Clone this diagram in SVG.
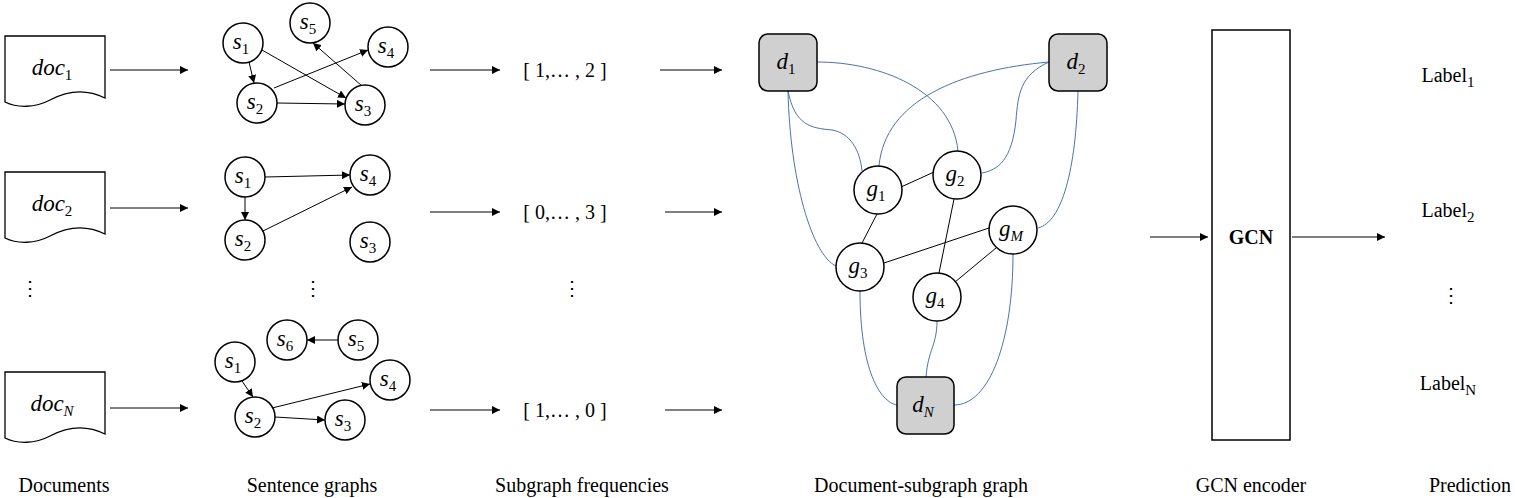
<svg xmlns="http://www.w3.org/2000/svg" width="1515" height="498" viewBox="0 0 1515 498">
<defs>
<marker id="ah" viewBox="0 0 10 10" refX="10" refY="5" markerWidth="8" markerHeight="8" orient="auto" markerUnits="userSpaceOnUse"><path d="M0,0L10,5L0,10z" fill="#000"/></marker>
<path id="docshape" d="M0,0H100V62C80,52 60,56 45,64C30,72 12,72 0,66Z"/>
</defs>
<style>
.m{font-family:"Liberation Serif",serif;font-style:italic;font-size:23px;text-anchor:middle}
.sub{font-size:15px;font-style:normal}
.si{font-size:15px;font-style:italic}
.t{font-family:"Liberation Serif",serif;font-size:20px;text-anchor:middle}
.c{fill:#fff;stroke:#000;stroke-width:1.5}
.e{stroke:#000;stroke-width:1;fill:none}
.ea{stroke:#000;stroke-width:1;fill:none;marker-end:url(#ah)}
.b{stroke:#4a72b0;stroke-width:1;fill:none}
.d{fill:#d0d0d0;stroke:#000;stroke-width:1.5}
</style>
<rect width="1515" height="498" fill="#fff"/>
<g id="connectors">
<path class="ea" d="M110,70H188"/><path class="ea" d="M110,208H188"/><path class="ea" d="M110,408H188"/>
<path class="ea" d="M430,70H500"/><path class="ea" d="M430,212H500"/><path class="ea" d="M430,410H500"/>
<path class="ea" d="M660,70H722"/><path class="ea" d="M665,212H722"/><path class="ea" d="M665,410H722"/>
<path class="ea" d="M1150,237H1208"/><path class="ea" d="M1292,237H1385"/>
<path class="ea" d="M249,62L254,83"/><path class="ea" d="M262,50L346,98"/><path class="ea" d="M274,88L368,50"/><path class="ea" d="M277,103L345,104"/><path class="ea" d="M362,86L313,43"/>
<path class="ea" d="M265,177L350,175"/><path class="ea" d="M245,197L245,220"/><path class="ea" d="M263,231L352,187"/>
<path class="ea" d="M338,340L307,340"/><path class="ea" d="M242,381L253,397"/><path class="ea" d="M272,408L370,384"/><path class="ea" d="M275,417L325,420"/>
<path class="b" d="M788,91C795,125 810,128 832,130C850,133 860,150 862,171"/>
<path class="b" d="M817,62C880,62 952,90 958,151"/>
<path class="b" d="M788,91C790,180 812,255 836,266"/>
<path class="b" d="M1049,62C960,70 885,100 879,166"/>
<path class="b" d="M1049,62C1020,75 1018,95 1016,120C1012,160 998,170 982,173"/>
<path class="b" d="M1078,91C1076,170 1062,222 1038,228"/>
<path class="b" d="M860,291C860,370 880,402 897,405"/>
<path class="b" d="M937,321C937,345 928,350 926,377"/>
<path class="b" d="M1013,254C1013,340 990,405 954,405"/>
<path class="e" d="M901,187L934,172"/><path class="e" d="M877,214L862,243"/><path class="e" d="M884,263L989,228"/><path class="e" d="M954,199L939,273"/><path class="e" d="M955,282L996,248"/>
</g>
<g id="documents">
<use href="#docshape" x="5" y="36" fill="#fff" stroke="#000" stroke-width="1.3"/>
<use href="#docshape" x="5" y="172" fill="#fff" stroke="#000" stroke-width="1.3"/>
<use href="#docshape" x="5" y="372" fill="#fff" stroke="#000" stroke-width="1.3"/>
<text class="m" x="52" y="75">doc<tspan class="sub" dy="5">1</tspan></text>
<text class="m" x="52" y="211">doc<tspan class="sub" dy="5">2</tspan></text>
<text class="m" x="52" y="411">doc<tspan class="si" dy="5">N</tspan></text>
<text class="t" x="30" y="295">⋮</text>
</g>
<g id="sentence-graphs">
<circle class="c" cx="243" cy="43" r="20"/><text class="m" x="241" y="49">s<tspan class="sub" dy="5">1</tspan></text>
<circle class="c" cx="310" cy="23" r="20"/><text class="m" x="308" y="29">s<tspan class="sub" dy="5">5</tspan></text>
<circle class="c" cx="388" cy="47" r="20"/><text class="m" x="386" y="53">s<tspan class="sub" dy="5">4</tspan></text>
<circle class="c" cx="257" cy="103" r="20"/><text class="m" x="255" y="109">s<tspan class="sub" dy="5">2</tspan></text>
<circle class="c" cx="365" cy="105" r="20"/><text class="m" x="363" y="111">s<tspan class="sub" dy="5">3</tspan></text>
<circle class="c" cx="245" cy="177" r="20"/><text class="m" x="243" y="183">s<tspan class="sub" dy="5">1</tspan></text>
<circle class="c" cx="370" cy="175" r="20"/><text class="m" x="368" y="181">s<tspan class="sub" dy="5">4</tspan></text>
<circle class="c" cx="245" cy="240" r="20"/><text class="m" x="243" y="246">s<tspan class="sub" dy="5">2</tspan></text>
<circle class="c" cx="370" cy="242" r="20"/><text class="m" x="368" y="248">s<tspan class="sub" dy="5">3</tspan></text>
<text class="t" x="313" y="295">⋮</text>
<circle class="c" cx="287" cy="340" r="20"/><text class="m" x="285" y="346">s<tspan class="sub" dy="5">6</tspan></text>
<circle class="c" cx="358" cy="340" r="20"/><text class="m" x="356" y="346">s<tspan class="sub" dy="5">5</tspan></text>
<circle class="c" cx="235" cy="362" r="20"/><text class="m" x="233" y="368">s<tspan class="sub" dy="5">1</tspan></text>
<circle class="c" cx="390" cy="380" r="20"/><text class="m" x="388" y="386">s<tspan class="sub" dy="5">4</tspan></text>
<circle class="c" cx="255" cy="417" r="20"/><text class="m" x="253" y="423">s<tspan class="sub" dy="5">2</tspan></text>
<circle class="c" cx="345" cy="420" r="20"/><text class="m" x="343" y="426">s<tspan class="sub" dy="5">3</tspan></text>
</g>
<g id="frequencies">
<text class="t" x="565" y="77">[ 1,… , 2 ]</text>
<text class="t" x="565" y="219">[ 0,… , 3 ]</text>
<text class="t" x="565" y="417">[ 1,… , 0 ]</text>
<text class="t" x="572" y="295">⋮</text>
</g>
<g id="doc-subgraph">
<rect class="d" x="759" y="34" width="58" height="57" rx="9"/><text class="m" x="786" y="69">d<tspan class="sub" dy="5">1</tspan></text>
<rect class="d" x="1049" y="34" width="58" height="57" rx="9"/><text class="m" x="1076" y="69">d<tspan class="sub" dy="5">2</tspan></text>
<rect class="d" x="897" y="377" width="57" height="57" rx="9"/><text class="m" x="923" y="412">d<tspan class="si" dy="5">N</tspan></text>
<circle class="c" cx="878" cy="190" r="24"/><text class="m" x="876" y="196">g<tspan class="sub" dy="5">1</tspan></text>
<circle class="c" cx="957" cy="175" r="24"/><text class="m" x="955" y="181">g<tspan class="sub" dy="5">2</tspan></text>
<circle class="c" cx="860" cy="267" r="24"/><text class="m" x="858" y="273">g<tspan class="sub" dy="5">3</tspan></text>
<circle class="c" cx="937" cy="297" r="24"/><text class="m" x="935" y="303">g<tspan class="sub" dy="5">4</tspan></text>
<circle class="c" cx="1013" cy="230" r="24"/><text class="m" x="1011" y="236">g<tspan class="si" dy="5">M</tspan></text>
</g>
<g id="gcn">
<rect x="1212" y="30" width="78" height="410" fill="#fff" stroke="#000" stroke-width="1.5"/>
<text class="t" x="1251" y="244" font-weight="bold">GCN</text>
</g>
<g id="predictions">
<text class="t" x="1448" y="82">Label<tspan class="sub" dy="5">1</tspan></text>
<text class="t" x="1448" y="217">Label<tspan class="sub" dy="5">2</tspan></text>
<text class="t" x="1451" y="302">⋮</text>
<text class="t" x="1448" y="390">Label<tspan class="sub" dy="5">N</tspan></text>
</g>
<g id="captions">
<text class="t" x="64" y="492">Documents</text>
<text class="t" x="312" y="492">Sentence graphs</text>
<text class="t" x="582" y="492">Subgraph frequencies</text>
<text class="t" x="921" y="492">Document-subgraph graph</text>
<text class="t" x="1251" y="492">GCN encoder</text>
<text class="t" x="1470" y="492">Prediction</text>
</g>
</svg>
